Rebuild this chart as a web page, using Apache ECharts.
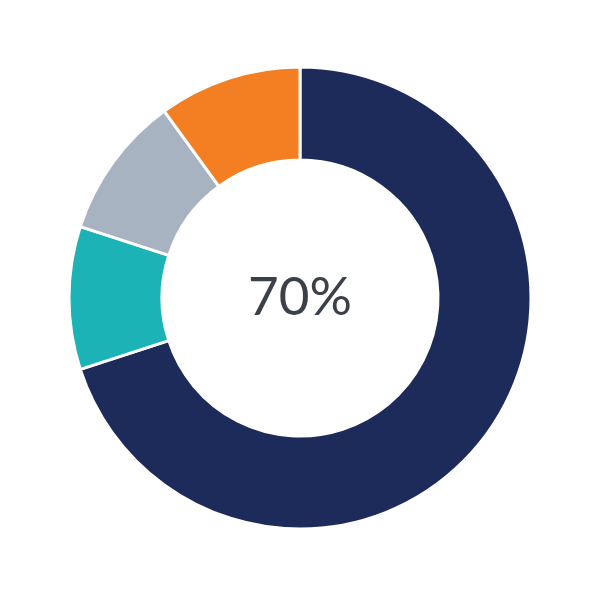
<!DOCTYPE html>
<html>
<head>
    <meta charset="UTF-8">
    <title>Donut</title>
    <script src="https://cdn.jsdelivr.net/npm/echarts@6/dist/echarts.min.js"></script>
    <style>
        html, body { margin: 0; padding: 0; background: #fff; }
        #main { width: 600px; height: 599px; }
    </style>
</head>
<body>
<div id="main"></div>
<script>
    // segments, clockwise from 12 o'clock
    var names = ['Main', 'Teal', 'Gray', 'Orange'];
    var values = [70, 10, 10, 10];
    var colors = ['#1c2b5a', '#1bb3b6', '#a8b3c1', '#f37f22'];
    var centerLabel = '70%';

    var myChart = echarts.init(document.getElementById('main'));

    var data = names.map(function (n, i) {
        return { name: n, value: values[i], itemStyle: { color: colors[i] } };
    });

    var option = {
        animation: false,
        title: {
            text: centerLabel,
            left: 'center',
            top: 266,
            textStyle: {
                fontFamily: 'Lato',
                fontWeight: 'normal',
                fontSize: 53,
                color: '#3b4049'
            }
        },
        series: [
            {
                type: 'pie',
                center: [300, 298],
                radius: [138, 231],
                startAngle: 90,
                clockwise: true,
                label: { show: false },
                labelLine: { show: false },
                itemStyle: { borderColor: '#fff', borderWidth: 3 },
                data: data
            }
        ]
    };

    myChart.setOption(option);
</script>
</body>
</html>
